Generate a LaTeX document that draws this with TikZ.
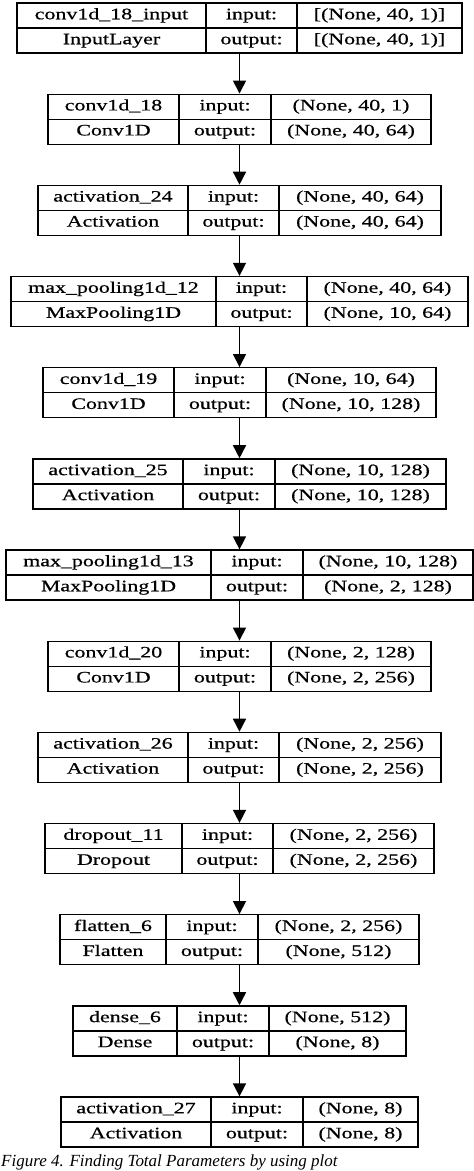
\documentclass[tikz,border=0pt]{standalone}
\usepackage{fontspec}
\setmainfont{Liberation Serif}[FakeStretch=1.37, FakeBold=0.6]
\newfontfamily\captionfont{Liberation Serif}
\usetikzlibrary{arrows.meta}

% one layer box: index, left x, divider 1, divider 2, right x, name, type, input, output
\newcommand{\layer}[9]{%
  \pgfmathsetmacro\ytop{3+91.17*(#1-1)}
  \node[layerbox, minimum width={(#5-#2)*1pt}] (L#1) at ({(#2+#5)/2}, {-\ytop-25}) {};
  \draw[cell] (#2, {-\ytop-25}) -- (#5, {-\ytop-25});
  \draw[cell] (#3, -\ytop) -- (#3, {-\ytop-50});
  \draw[cell] (#4, -\ytop) -- (#4, {-\ytop-50});
  \node[txt] (L#1name) at ({(#2+#3)/2}, {-\ytop-12.5}) {#6};
  \node[txt] (L#1type) at ({(#2+#3)/2}, {-\ytop-37.5}) {#7};
  \node[txt] (L#1inl) at ({(#3+#4)/2}, {-\ytop-12.5}) {input:};
  \node[txt] (L#1outl) at ({(#3+#4)/2}, {-\ytop-37.5}) {output:};
  \node[txt] (L#1in) at ({(#4+#5)/2}, {-\ytop-12.5}) {#8};
  \node[txt] (L#1out) at ({(#4+#5)/2}, {-\ytop-37.5}) {#9};
}

\begin{document}
\begin{tikzpicture}[
  x=1pt, y=1pt,
  layerbox/.style={draw, line width=1.3pt, minimum height=50pt, inner sep=0pt},
  cell/.style={line width=1.3pt},
  txt/.style={inner sep=0pt, font=\fontsize{16}{19}\selectfont, text height=10.5pt, text depth=3pt},
  flow/.style={line width=1.5pt, -{Triangle[width=13pt, length=13pt]}}
]
  \useasboundingbox (0, 0) rectangle (474, -1171);

  % layers, top to bottom
  \layer{1}{17}{206}{297}{462}{conv1d\_18\_input}{InputLayer}{[(None, 40, 1)]}{[(None, 40, 1)]}
  \layer{2}{48}{179}{271}{431}{conv1d\_18}{Conv1D}{(None, 40, 1)}{(None, 40, 64)}
  \layer{3}{38}{188}{279}{441}{activation\_24}{Activation}{(None, 40, 64)}{(None, 40, 64)}
  \layer{4}{11}{216}{307}{468}{max\_pooling1d\_12}{MaxPooling1D}{(None, 40, 64)}{(None, 10, 64)}
  \layer{5}{43}{174}{266}{436}{conv1d\_19}{Conv1D}{(None, 10, 64)}{(None, 10, 128)}
  \layer{6}{33}{183}{275}{446}{activation\_25}{Activation}{(None, 10, 128)}{(None, 10, 128)}
  \layer{7}{6}{211}{303}{473}{max\_pooling1d\_13}{MaxPooling1D}{(None, 10, 128)}{(None, 2, 128)}
  \layer{8}{48}{179}{271}{431}{conv1d\_20}{Conv1D}{(None, 2, 128)}{(None, 2, 256)}
  \layer{9}{38}{188}{279}{441}{activation\_26}{Activation}{(None, 2, 256)}{(None, 2, 256)}
  \layer{10}{45}{182}{273}{434}{dropout\_11}{Dropout}{(None, 2, 256)}{(None, 2, 256)}
  \layer{11}{60}{166}{258}{419}{flatten\_6}{Flatten}{(None, 2, 256)}{(None, 512)}
  \layer{12}{73}{177}{269}{406}{dense\_6}{Dense}{(None, 512)}{(None, 8)}
  \layer{13}{61}{211}{303}{418}{activation\_27}{Activation}{(None, 8)}{(None, 8)}

  % arrows between layers
  \draw[flow] (L1) -- (L2);
  \draw[flow] (L2) -- (L3);
  \draw[flow] (L3) -- (L4);
  \draw[flow] (L4) -- (L5);
  \draw[flow] (L5) -- (L6);
  \draw[flow] (L6) -- (L7);
  \draw[flow] (L7) -- (L8);
  \draw[flow] (L8) -- (L9);
  \draw[flow] (L9) -- (L10);
  \draw[flow] (L10) -- (L11);
  \draw[flow] (L11) -- (L12);
  \draw[flow] (L12) -- (L13);

  % caption
  \node[anchor=base west, inner sep=0pt, font=\captionfont\fontsize{17}{20}\selectfont\itshape] (caption) at (1, -1166) {Figure 4. Finding Total Parameters by using plot};
\end{tikzpicture}
\end{document}
